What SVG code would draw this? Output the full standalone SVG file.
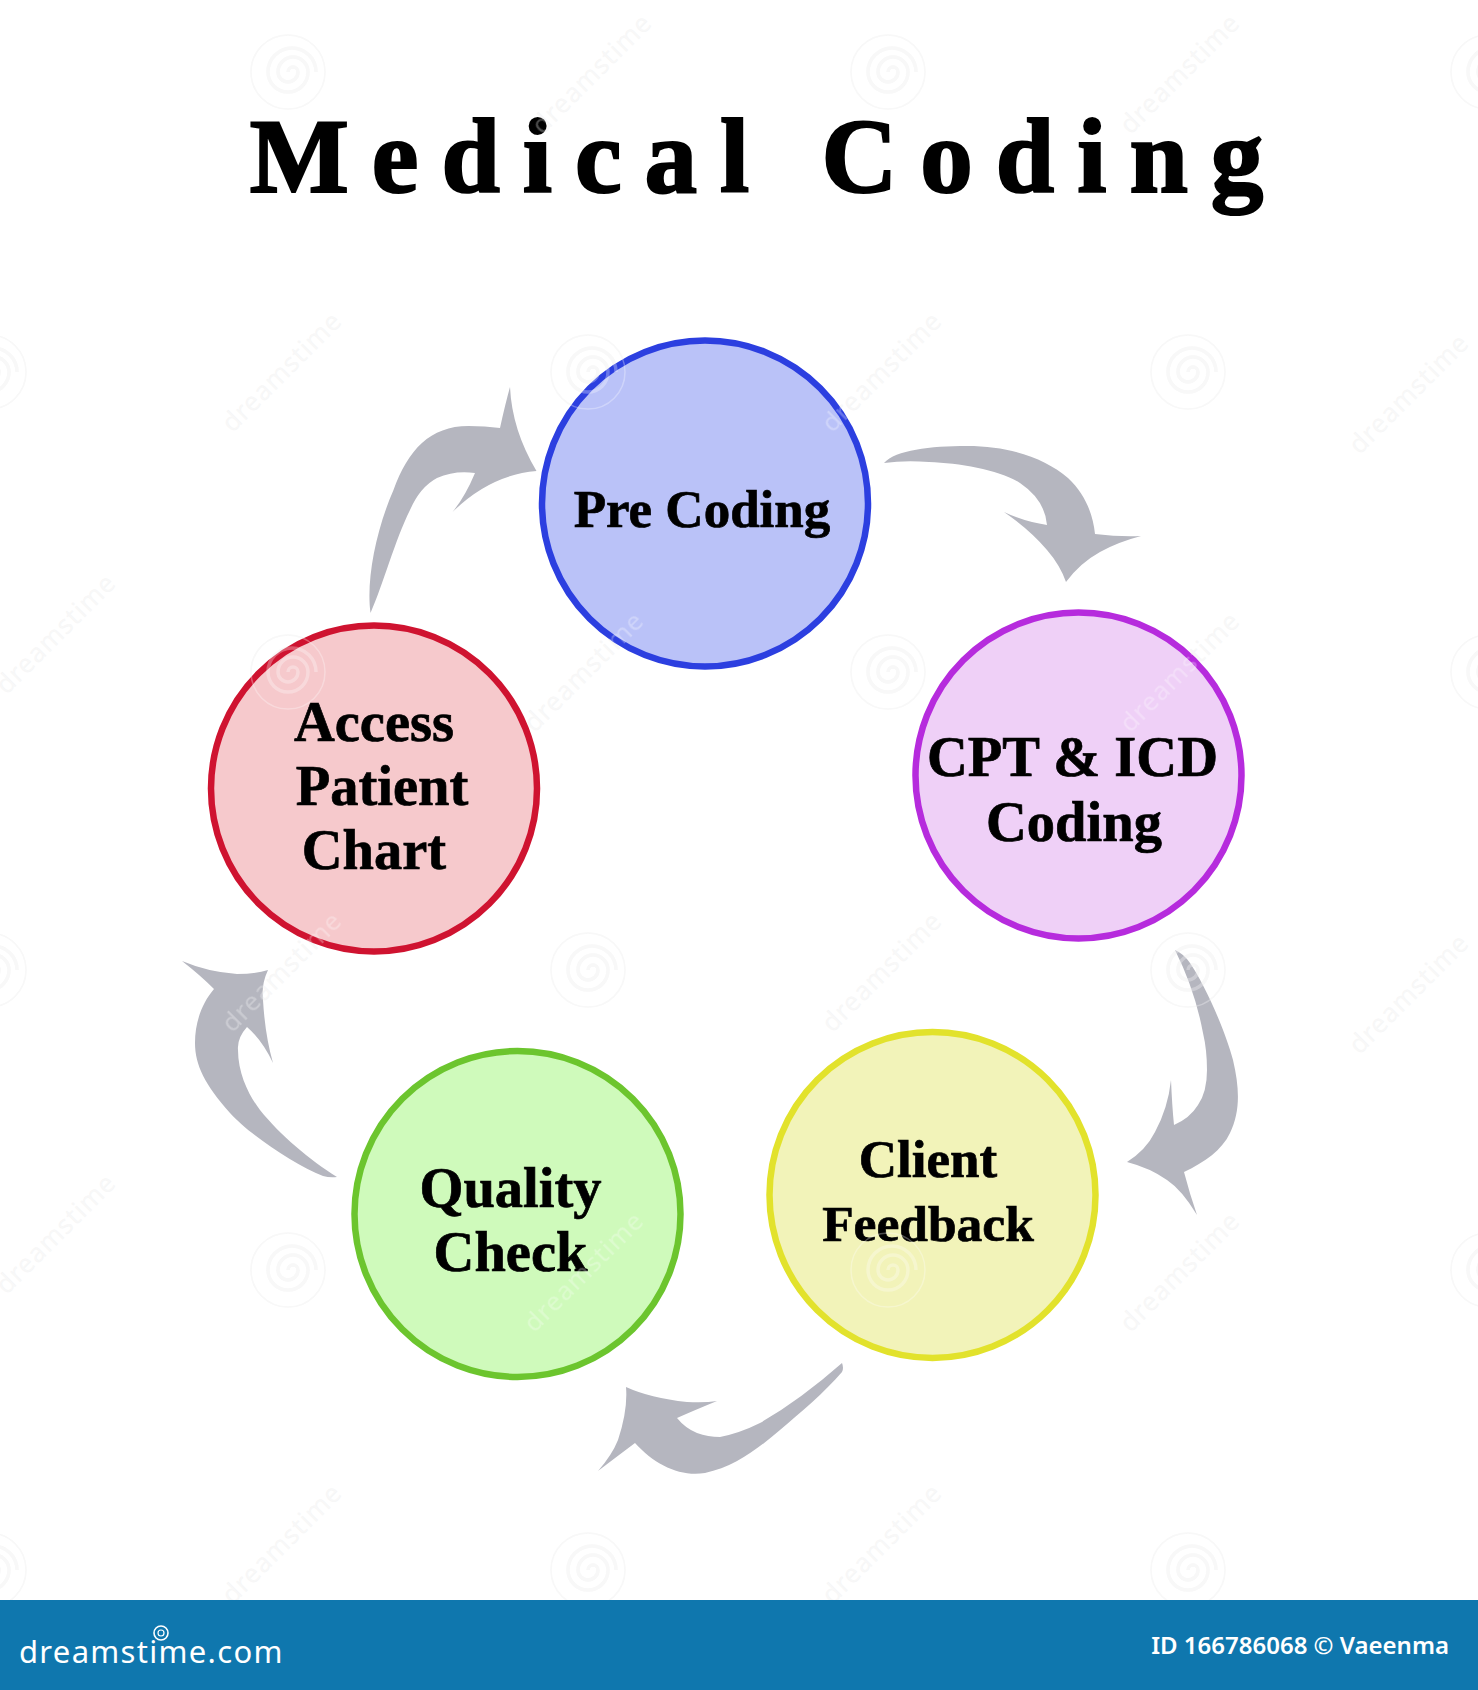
<svg xmlns="http://www.w3.org/2000/svg" width="1478" height="1690" viewBox="0 0 1478 1690">
<style>
.t{font-family:"Liberation Serif","Times New Roman",serif;font-weight:700;font-size:53px;fill:#000;stroke:#000;stroke-width:.7;text-anchor:middle}
.b{font-size:56.5px}
.n{stroke-width:6.5}
.a{fill:#b5b6bf}
.w{font-family:"Noto Sans",sans-serif;font-size:26px;fill:currentColor;text-anchor:middle;letter-spacing:1px}
.s{fill:none;stroke:currentColor;stroke-width:1.5}
.p{fill:none;stroke:currentColor;stroke-width:3.5}
</style>
<defs>
<g id="sp"><circle class="s" r="37"/><path class="p" d="M0 0a5 5 0 0 1 10 0a10 10 0 0 1-20 0a15 15 0 0 1 30 0a20 20 0 0 1-40 0a24 24 0 0 1 48 0"/></g>
<g id="wm">
<use href="#sp" x="288" y="72"/><use href="#sp" x="888" y="72"/><use href="#sp" x="1488" y="72"/>
<use href="#sp" x="-11" y="372"/><use href="#sp" x="588" y="372"/><use href="#sp" x="1188" y="372"/>
<use href="#sp" x="288" y="672"/><use href="#sp" x="888" y="672"/><use href="#sp" x="1488" y="672"/>
<use href="#sp" x="-11" y="970"/><use href="#sp" x="588" y="970"/><use href="#sp" x="1188" y="970"/>
<use href="#sp" x="288" y="1270"/><use href="#sp" x="888" y="1270"/><use href="#sp" x="1488" y="1270"/>
<use href="#sp" x="-11" y="1570"/><use href="#sp" x="588" y="1570"/><use href="#sp" x="1188" y="1570"/>
<text class="w" transform="translate(1186 80) rotate(-45)">dreamstime</text>
<text class="w" transform="translate(598 80) rotate(-45)">dreamstime</text>
<text class="w" transform="translate(288 378) rotate(-45)">dreamstime</text>
<text class="w" transform="translate(888 378) rotate(-45)">dreamstime</text>
<text class="w" transform="translate(1415 400) rotate(-45)">dreamstime</text>
<text class="w" transform="translate(1186 678) rotate(-45)">dreamstime</text>
<text class="w" transform="translate(590 678) rotate(-45)">dreamstime</text>
<text class="w" transform="translate(62 640) rotate(-45)">dreamstime</text>
<text class="w" transform="translate(288 978) rotate(-45)">dreamstime</text>
<text class="w" transform="translate(888 978) rotate(-45)">dreamstime</text>
<text class="w" transform="translate(1415 1000) rotate(-45)">dreamstime</text>
<text class="w" transform="translate(1186 1278) rotate(-45)">dreamstime</text>
<text class="w" transform="translate(590 1278) rotate(-45)">dreamstime</text>
<text class="w" transform="translate(62 1240) rotate(-45)">dreamstime</text>
<text class="w" transform="translate(288 1550) rotate(-45)">dreamstime</text>
<text class="w" transform="translate(888 1550) rotate(-45)">dreamstime</text>
</g>
</defs>
<rect width="1478" height="1690" fill="#fff"/>
<use id="watermark-base" href="#wm" color="#f5f5f5"/>
<text id="title" x="768" y="192" font-family="'Liberation Serif','Times New Roman',serif" font-weight="700" font-size="105" letter-spacing="23" text-anchor="middle" stroke="#000" stroke-width="2.2">Medical Coding</text>
<g id="connectors">
<path class="a" d="M370.5 613C366 580 376 530 393.5 490C408 450 430 426 468.5 426Q485 426 500 428Q505 405 510 387Q512 430 536.5 471Q490 475 452.5 512Q465 497 475 473Q455 470 437 478Q420 487 410 510C395 540 383 585 370.5 613Z"/>
<path class="a" d="M884 463C896 450 930 446 967 446C1010 446 1045 458 1068 478C1086 495 1093 515 1095 534Q1120 537 1141 536Q1118 542 1100 552Q1080 563 1066 582Q1060 565 1047 550Q1030 530 1004 512Q1025 522 1047 525Q1045 500 1020 483C1000 470 960 463 929 462Q905 460 884 463Z"/>
<path class="a" d="M1175 950Q1184 954 1190 963C1205 985 1225 1030 1233 1060C1240 1090 1240 1112 1230 1133C1222 1150 1205 1162 1184 1172Q1190 1195 1197 1215Q1182 1190 1167 1180Q1150 1168 1127 1162Q1146 1150 1155 1132Q1168 1108 1171 1080Q1172 1105 1174 1125Q1190 1118 1198 1105Q1207 1092 1207 1070Q1207 1050 1203 1033Q1195 990 1175 950Z"/>
<path class="a" d="M842 1363Q844 1368 842 1372C825 1392 800 1413 780 1430C760 1447 735 1467 705 1473C680 1477 655 1465 635 1443Q615 1458 598 1471Q612 1455 618 1440Q628 1410 626 1387Q650 1398 687 1402Q705 1403 717 1401Q695 1410 677 1418Q685 1428 697 1433Q708 1437 720 1437Q740 1433 760 1423Q800 1400 842 1363Z"/>
<path class="a" d="M182 961Q208 972 237 974Q255 974 268 970Q261 985 263 1000Q265 1035 273 1063Q262 1040 247 1027Q237 1038 238 1050C238 1075 250 1097 260 1110C280 1135 310 1160 337 1177Q330 1178 323 1176C295 1165 250 1135 230 1113C205 1085 195 1065 195 1043C195 1022 202 1003 214 989Q200 975 182 961Z"/>
</g>
<g id="node-pre-coding"><circle class="n" cx="705" cy="503.5" r="163" fill="#bac2f8" stroke="#2c3fe0"/><text class="t" x="702" y="527">Pre Coding</text></g>
<g id="node-cpt-icd"><circle class="n" cx="1078.5" cy="775.5" r="163" fill="#efd0f7" stroke="#b62bdd"/><text class="t b" x="1072.5" y="776">CPT &amp; ICD</text><text class="t b" x="1074" y="841">Coding</text></g>
<g id="node-client"><circle class="n" cx="932.5" cy="1195" r="163" fill="#f2f3b9" stroke="#e2e22c"/><text class="t" x="928" y="1177">Client</text><text class="t" x="928" y="1241" style="font-size:51.5px">Feedback</text></g>
<g id="node-quality"><circle class="n" cx="517.5" cy="1214" r="163" fill="#cffabb" stroke="#6cc52e"/><text class="t b" x="510.5" y="1207">Quality</text><text class="t b" x="510.5" y="1271">Check</text></g>
<g id="node-access"><circle class="n" cx="374" cy="788.5" r="163" fill="#f6c9cc" stroke="#cf1330"/><text class="t b" x="374" y="741">Access</text><text class="t b" x="382" y="805">Patient</text><text class="t b" x="374" y="869">Chart</text></g>
<use id="watermark-over" href="#wm" color="#fff" opacity=".3"/>
<g id="footer">
<rect x="0" y="1600" width="1478" height="90" fill="#0f77ae"/>
<text x="19" y="1663" font-family="'Noto Sans',sans-serif" font-size="31" fill="#fff" letter-spacing="1.3">dreamstime.com</text>
<circle cx="161" cy="1633" r="7" fill="none" stroke="#fff" stroke-width="1.6"/><circle cx="161" cy="1633" r="3" fill="none" stroke="#fff" stroke-width="1.2"/>
<text x="1449" y="1654" font-family="'Noto Sans',sans-serif" font-size="24" font-weight="600" fill="#fff" text-anchor="end">ID 166786068 © Vaeenma</text>
</g>
</svg>
